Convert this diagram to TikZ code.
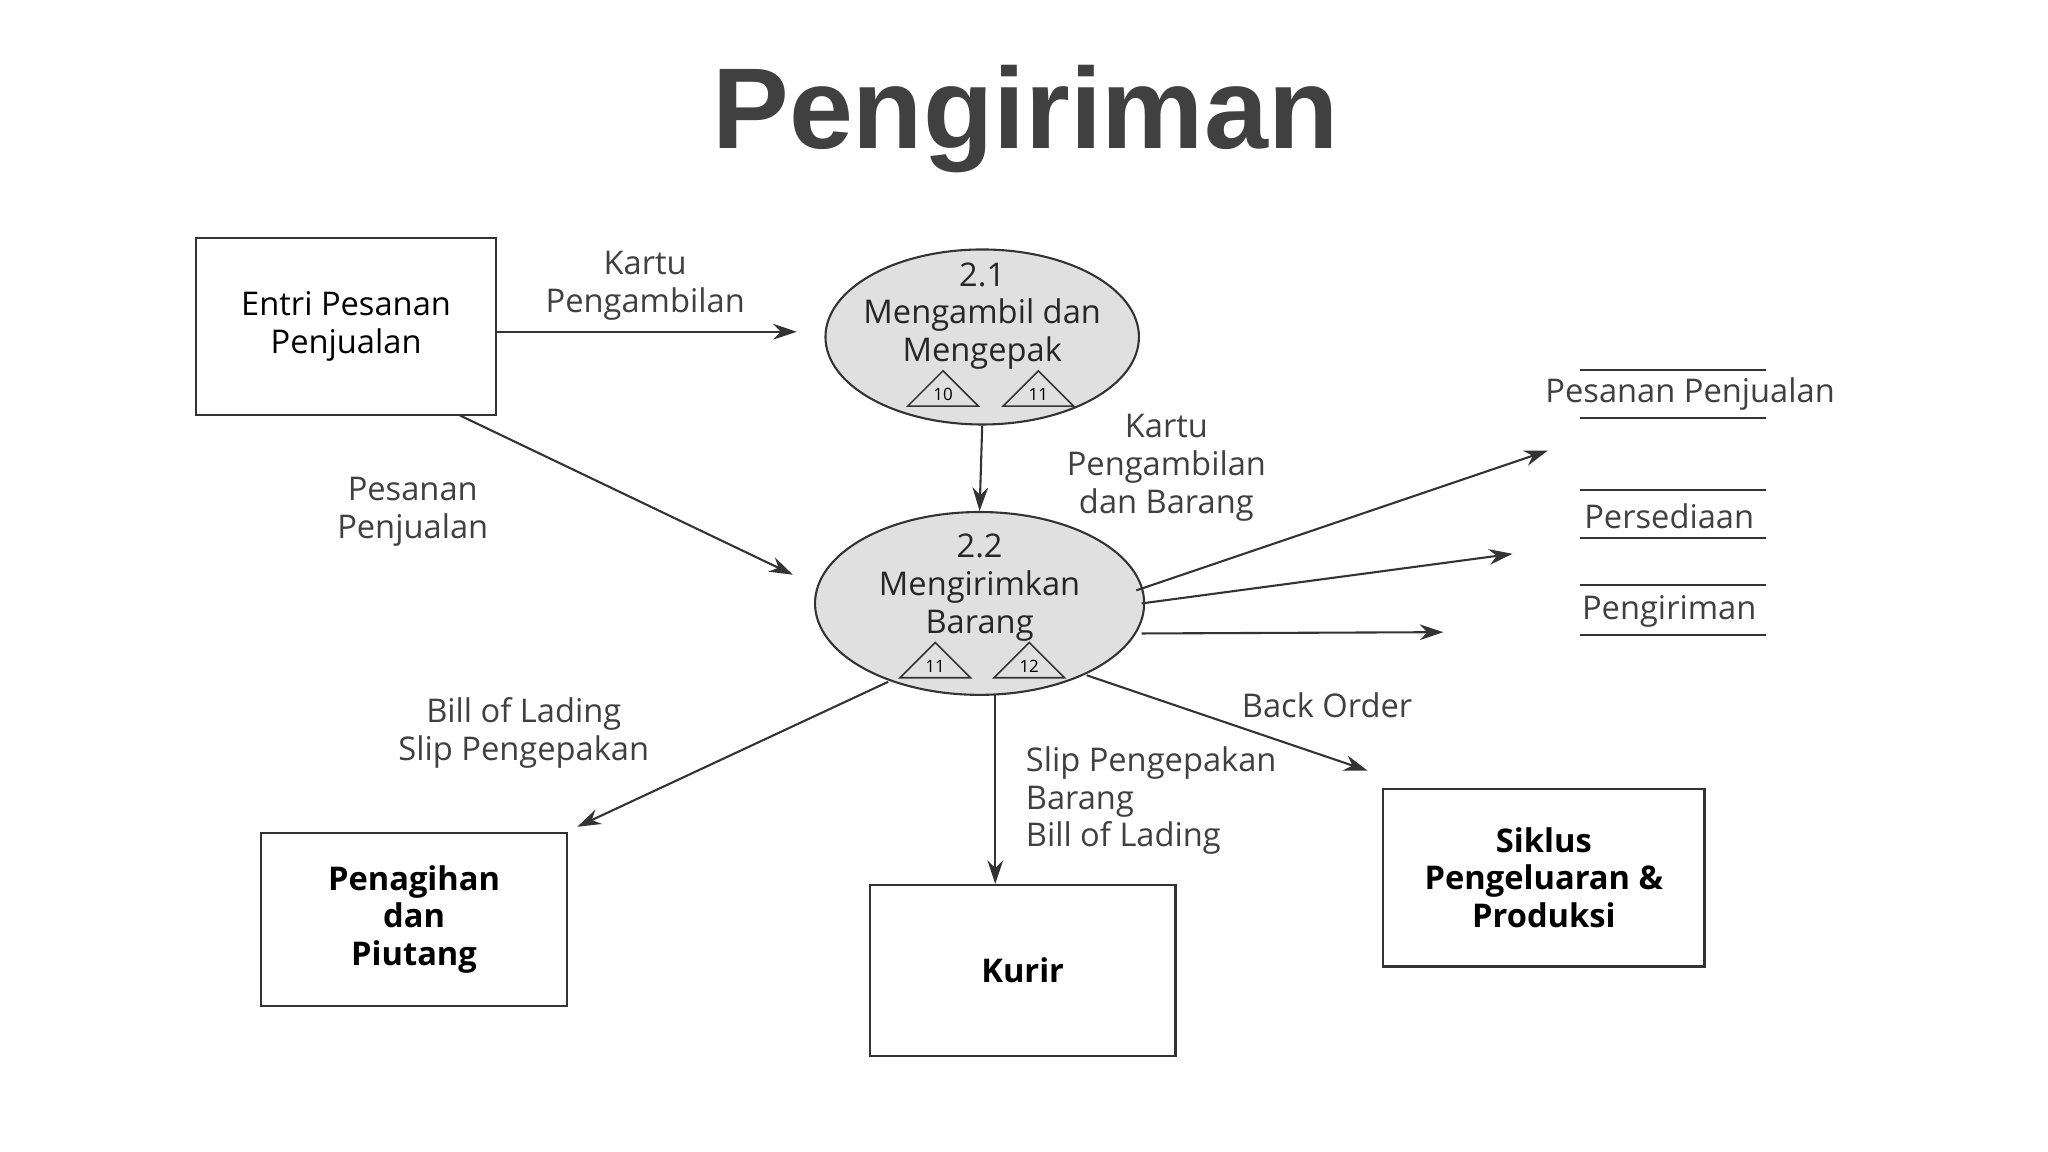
\documentclass[tikz,border=0pt]{standalone}
\usepackage{fontspec}
\setmainfont{Open Sans}
\newfontfamily\titlefont{Liberation Sans}
\usetikzlibrary{arrows.meta,shapes.geometric}
\begin{document}
\begin{tikzpicture}[x=0.5pt,y=-0.5pt,
  lbl/.style={font=\fontsize{12.5}{14.5}\selectfont,text=black!75,align=center,inner sep=0pt},
  ent/.style={draw=black!80,line width=0.8pt,font=\fontsize{12.5}{14.5}\selectfont,align=center,inner sep=0pt},
  proc/.style={ellipse,draw=black!80,line width=0.8pt,fill=black!12,align=center,inner sep=0pt},
  arr/.style={draw=black!80,line width=0.8pt,-{Stealth[length=9pt,width=6pt]}},
  tri/.style={isosceles triangle,isosceles triangle apex angle=90,isosceles triangle stretches,shape border rotate=90,draw=black!80,line width=0.6pt,inner sep=0pt,font=\fontsize{6.5}{7}\selectfont,minimum height=13.5pt,minimum width=27pt},
  store/.style={draw=black!80,line width=0.8pt}]
\useasboundingbox (0,0) rectangle (1568,882);
\fill[white] (0,0) rectangle (1568,882);
\node[font=\titlefont\bfseries\fontsize{44}{50}\selectfont,text=black!75] (title) at (785,91) {Pengiriman};

\node[ent,minimum width=115pt,minimum height=67.5pt] (entri) at (265,250) {Entri Pesanan\\Penjualan};
\node[proc,minimum width=120pt,minimum height=67pt] (p1) at (752,258) {};
\node[lbl,text=black!85] (p1t) at (752,242) {2.1\\Mengambil dan\\Mengepak};
\node[tri] (t10) at (722,302) {\raisebox{-3pt}{10}};
\node[tri] (t11) at (795,302) {\raisebox{-3pt}{11}};
\node[proc,minimum width=126pt,minimum height=70pt] (p2) at (750,462) {};
\node[lbl,text=black!85] (p2t) at (750,450) {2.2\\Mengirimkan\\Barang};
\node[tri] (t11b) at (716,510) {\raisebox{-3pt}{11}};
\node[tri] (t12) at (788,510) {\raisebox{-3pt}{12}};

\node[ent,font=\fontsize{12.5}{14.5}\selectfont\bfseries,minimum width=117pt,minimum height=66pt] (pen) at (317,704) {Penagihan\\dan\\Piutang};
\node[ent,font=\fontsize{12.5}{14.5}\selectfont\bfseries,minimum width=117pt,minimum height=65.5pt] (kur) at (783,743) {Kurir};
\node[ent,font=\fontsize{12.5}{14.5}\selectfont\bfseries,minimum width=123pt,minimum height=68pt] (sik) at (1182,672) {Siklus\\Pengeluaran \&\\Produksi};

% data stores
\coordinate (s1a) at (1210,283); \coordinate (s1b) at (1352,283);
\coordinate (s1c) at (1210,320); \coordinate (s1d) at (1352,320);
\coordinate (s2a) at (1210,375); \coordinate (s2b) at (1352,375);
\coordinate (s2c) at (1210,412); \coordinate (s2d) at (1352,412);
\coordinate (s3a) at (1210,448); \coordinate (s3b) at (1352,448);
\coordinate (s3c) at (1210,486); \coordinate (s3d) at (1352,486);
\draw[store] (s1a)--(s1b) (s1c)--(s1d) (s2a)--(s2b) (s2c)--(s2d) (s3a)--(s3b) (s3c)--(s3d);
\node[lbl] (st1) at (1294,302) {Pesanan Penjualan};
\node[lbl] (st2) at (1278,395) {Persediaan};
\node[lbl] (st3) at (1278,468) {Pengiriman};

\coordinate (e1) at (610,254);
\coordinate (e2) at (607,440);
\coordinate (e3) at (1185,345);
\coordinate (e4) at (1158,424);
\coordinate (e5) at (1105,484);
\coordinate (e6) at (442,633);
\coordinate (e7) at (1047,590);
\draw[arr] (entri.east|-e1) -- (e1);
\draw[arr] (352,318) -- (e2);
\draw[arr] (p1.south) -- (p2.north);
\draw[arr] (870,452) -- (e3);
\draw[arr] (874,462) -- (e4);
\draw[arr] (874,485) -- (e5);
\draw[arr] (680,522) -- (e6);
\draw[arr] (762,532) -- (kur.north-|762,0);
\draw[arr] (832,517) -- (e7);

\node[lbl] (l1) at (494,219) {Kartu\\Pengambilan};
\node[lbl] (l2) at (316,392) {Pesanan\\Penjualan};
\node[lbl] (l3) at (893,358) {Kartu\\Pengambilan\\dan Barang};
\node[lbl] (l4) at (401,561) {Bill of Lading\\Slip Pengepakan};
\node[lbl,align=left,anchor=north west] (l5) at (785,571) {Slip Pengepakan\\Barang\\Bill of Lading};
\node[lbl] (l6) at (1016,540) {Back Order};
\end{tikzpicture}
\end{document}
